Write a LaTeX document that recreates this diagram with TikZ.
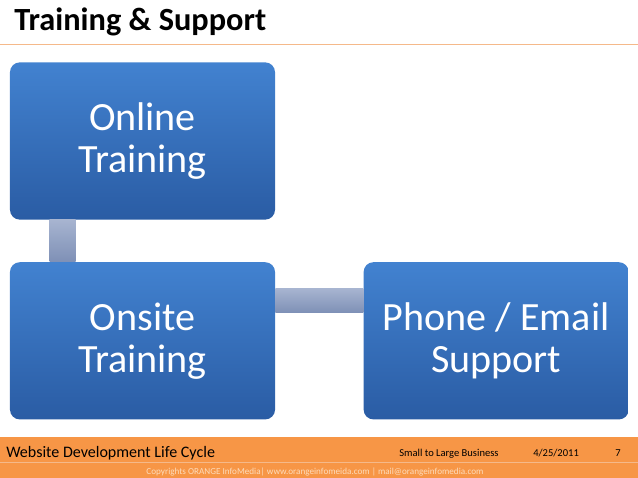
\documentclass[tikz,border=0pt]{standalone}
\usepackage{fontspec}
\setmainfont{Carlito}
\usepackage{xcolor}
\usepackage{tikz}
\usetikzlibrary{positioning}
\definecolor{boxtop}{HTML}{4282D0}
\definecolor{boxbot}{HTML}{2A5CA4}
\definecolor{linktop}{HTML}{A7B4D0}
\definecolor{linkbot}{HTML}{7E90B6}
\definecolor{footorange}{HTML}{F79646}
\definecolor{rulelight}{HTML}{F5B98A}
\definecolor{copytext}{HTML}{FDDCBC}

\begin{document}
\begin{tikzpicture}[
        x=0.025cm, y=-0.025cm,
        node distance=1.05cm,
        stage/.style={rectangle, rounded corners=7pt, top color=boxtop, bottom color=boxbot,
                      draw=none, minimum width=6.625cm, minimum height=3.93cm,
                      align=center, text=white, font=\fontsize{28.5}{30}\selectfont},
        link/.style={top color=linktop, bottom color=linkbot, draw=none},
        foot/.style={anchor=base west, inner sep=0pt}
    ]
        \useasboundingbox (0,0) rectangle (638,478);

        % title
        \node[anchor=base west, inner sep=0pt, font=\fontsize{23}{27}\selectfont\bfseries] (title) at (14,31) {Training \& Support};
        \draw[rulelight, line width=0.6pt] (0,44) -- (638,44);

        % hierarchy
        \node[stage] (online) at (142.5,141) {Online\\Training};
        \node[stage, below=of online] (onsite) {Onsite\\Training};
        \node[stage, right=2.2cm of onsite] (phone) {Phone / Email\\Support};

        \shade[link] ([xshift=1cm]online.south west) rectangle ([xshift=1.65cm]onsite.north west);
        \shade[link] ([yshift=1.3cm]onsite.east) rectangle ([yshift=0.7cm]phone.west);

        % footer
        \fill[footorange] (0,437) rectangle (638,478);
        \draw[rulelight, line width=0.6pt] (0,462) -- (638,462);
        \node[foot, font=\fontsize{11.4}{13}\selectfont] (course) at (6,457) {Website Development Life Cycle};
        \node[foot, font=\fontsize{7.5}{9}\selectfont] (audience) at (399,456) {Small to Large Business};
        \node[foot, font=\fontsize{7.5}{9}\selectfont] (date) at (533,456) {4/25/2011};
        \node[foot, font=\fontsize{7.5}{9}\selectfont] (page) at (615,456) {7};
        \node[anchor=base, inner sep=0pt, text=copytext, font=\fontsize{6.5}{8}\selectfont] (copy) at (315,474)
            {Copyrights ORANGE InfoMedia| www.orangeinfomeida.com | mail@orangeinfomedia.com};
    \end{tikzpicture}
\end{document}
